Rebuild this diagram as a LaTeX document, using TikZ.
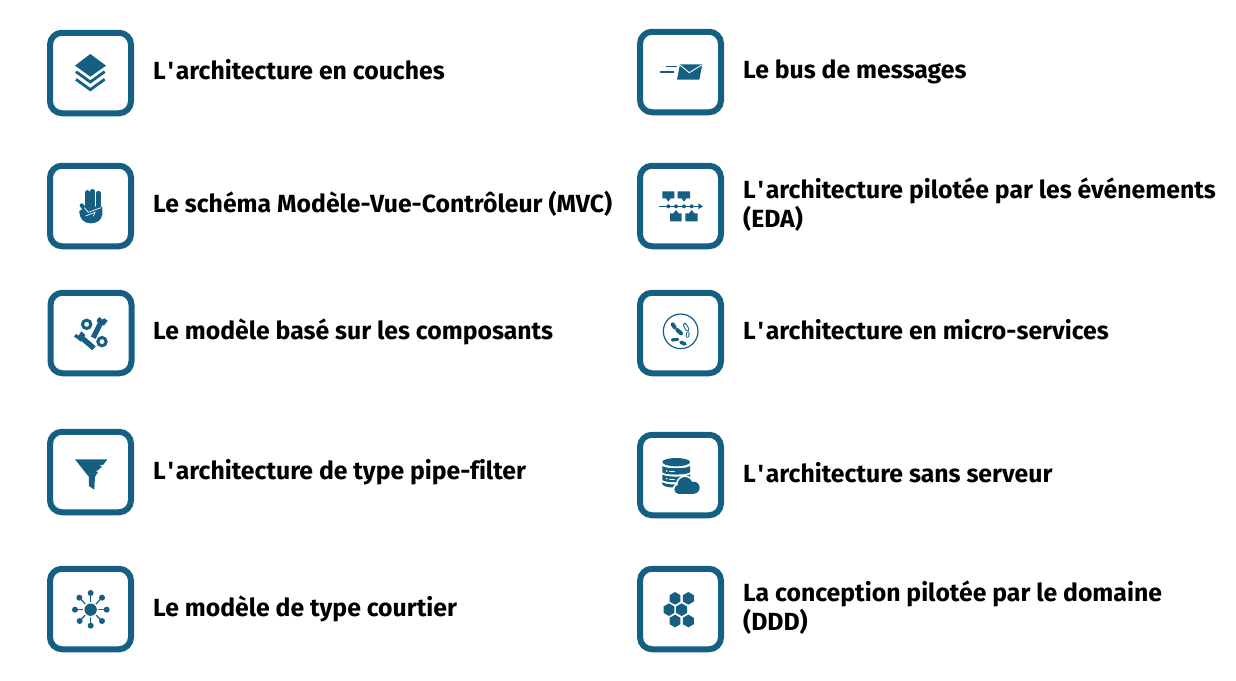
\documentclass[tikz,border=0pt]{standalone}
\usepackage{fontspec}
\usetikzlibrary{calc}
\setmainfont{Fira Sans}[Ligatures={TeXOff,NoCommon}]
\definecolor{teal1}{HTML}{156082}
\newcommand{\lap}{L\kern2pt'\kern2pt}
\tikzset{
  crop/.style 2 args={shift={(#1,#2)},x=0.3333pt,y=-0.3333pt},
  framebox/.style={draw=teal1,line width=6pt,rounded corners=12pt,fill=white,minimum width=81pt,minimum height=80.5pt,inner sep=0pt},
  txt/.style={anchor=base west,inner sep=0pt,align=left,font=\fontsize{24.8pt}{28.5pt}\selectfont\bfseries,text=black},
  icl/.style={draw=teal1,fill=none}
}
\begin{document}
\begin{tikzpicture}[x=1pt,y=-1pt]
\useasboundingbox (0,0) rectangle (1236,680);
% frames
\node[framebox] (b1) at (90.5,73) {};
\node[framebox] (b2) at (90.5,206) {};
\node[framebox] (b3) at (91,333) {};
\node[framebox] (b4) at (90.5,472) {};
\node[framebox] (b5) at (90.5,609) {};
\node[framebox] (c1) at (680.5,72) {};
\node[framebox] (c2) at (680.5,206) {};
\node[framebox] (c3) at (680.5,333) {};
\node[framebox] (c4) at (680.5,475) {};
\node[framebox] (c5) at (680.5,609) {};
% labels
\node[txt] (t1) at (153,79) {\lap architecture en couches};
\node[txt] (t2) at (153,212) {Le schéma Modèle-Vue-Contrôleur (MVC)};
\node[txt] (t3) at (153,339) {Le modèle basé sur les composants};
\node[txt] (t4) at (153,479) {\lap architecture de type pipe-filter};
\node[txt] (t5) at (153,616) {Le modèle de type courtier};
\node[txt] (u1) at (743,78) {Le bus de messages};
\node[txt] (u2) at (743,227) {\lap architecture pilotée par les événements\\(EDA)};
\node[txt] (u3) at (743,339) {\lap architecture en micro-services};
\node[txt] (u4) at (743,482) {\lap architecture sans serveur};
\node[txt] (u5) at (743,630) {La conception pilotée par le domaine\\(DDD)};
% layers icon
\begin{scope}[crop={40}{20}]
\fill[teal1] (151,102)--(198,137)--(151,170)--(105,137)--cycle;
\draw[icl,line width=2.8pt] (108,155)--(151,186)--(194,155);
\draw[icl,line width=2.8pt] (108,178)--(151,209)--(194,178);
\end{scope}
% hand icon
\begin{scope}[crop={40}{155}]
\draw[icl,line width=4.4pt,line cap=round] (142,112)--(142,165);
\draw[icl,line width=4.6pt,line cap=round] (158,109)--(158,165);
\draw[icl,line width=4.4pt,line cap=round] (175,114)--(175,165);
\fill[teal1] (118,168) .. controls (125,160) and (170,150) .. (187,156) -- (187,178) .. controls (185,196) and (170,205) .. (152,205) .. controls (132,205) and (118,192) .. (118,168) -- cycle;
\draw[icl,line width=4pt,line cap=round] (125,151)--(138,168);
\draw[white,line width=0.7pt] (133,158)--(145,172)--(183,158);
\draw[white,line width=0.7pt] (137,183)--(165,172)--(160,184);
\end{scope}
% tools icon
\begin{scope}[crop={40}{285}]
\draw[icl,line width=3pt] (140,118) circle (12.5);
\draw[icl,line width=3pt] (186,170) circle (12.5);
\draw[icl,line width=5.3pt] (183,112)--(160,158);
\fill[teal1] (172,102)--(180,96)--(186,104)--(193,100)--(203,107)--(192,122)--(170,110)--cycle;
\draw[icl,line width=5.3pt] (125,158)--(162,190);
\fill[teal1] (102,155)--(108,147)--(116,152)--(124,139)--(136,150)--(122,170)--(110,160)--cycle;
\end{scope}
% funnel icon
\begin{scope}[crop={40}{422}]
\fill[teal1] (105,112)--(202,112)--(190,128)--(176,130)--(186,133)--(174,145)--(166,147)--(174,150)--(165,165)--(163,203)--(147,192)--(147,165)--cycle;
\end{scope}
% broker icon
\begin{scope}[crop={40}{560}]
\foreach \a/\b in {152/99,152/197,105/149,200/149,118/113,186/113,119/183,186/183}{
  \draw[icl,line width=1.2pt] (152,149)--(\a,\b);
  \fill[teal1] (\a,\b) circle (9);
}
\fill[white] (152,149) circle (23);
\fill[teal1] (152,149) circle (18.5);
\end{scope}
% message icon
\begin{scope}[crop={630}{22}]
\fill[teal1] (150,127)--(217,127)--(208,173)--(141,173)--cycle;
\draw[white,line width=0.9pt] (150,129)--(178,152)--(215,129);
\draw[icl,line width=1pt] (109,134)--(141,134);
\draw[icl,line width=1.3pt] (90,150)--(132,150);
\end{scope}
% event icon
\begin{scope}[crop={630}{155}]
\fill[teal1] (97,109)--(133,109)--(133,130)--(122,130)--(115,140)--(108,130)--(97,130)--cycle;
\fill[teal1] (143,109)--(180,109)--(180,130)--(169,130)--(162,140)--(155,130)--(143,130)--cycle;
\fill[teal1] (120,175)--(130,175)--(138,165)--(146,175)--(155,175)--(155,199)--(120,199)--cycle;
\fill[teal1] (166,175)--(177,175)--(185,165)--(193,175)--(203,175)--(203,199)--(166,199)--cycle;
\draw[icl,line width=1pt] (88,154)--(210,154);
\fill[teal1] (205,145)--(219,154)--(205,163)--cycle;
\foreach \a in {115,138,162,185}{\fill[teal1] (\a,154) circle (6);}
\end{scope}
% microservices icon
\begin{scope}[crop={630}{285}]
\draw[icl,line width=1.2pt] (152,139) circle (52);
\draw[icl,line width=4pt,line cap=round] (128,118)--(134,127);
\draw[icl,line width=4pt,line cap=round] (142,135)--(153,145);
\draw[icl,line width=4pt,line cap=round] (165,120)--(172,133);
\draw[white,line width=2pt,line cap=round] (165,120)--(172,133);
\draw[icl,line width=3.4pt,line cap=round] (174,144)--(172,154);
\draw[white,line width=1.4pt,line cap=round] (174,144)--(172,154);
\draw[icl,line width=3.2pt,line cap=round] (127,165)--(143,163);
\draw[icl,line width=3.6pt,line cap=round] (153,172)--(165,177);
\end{scope}
% serverless icon
\begin{scope}[crop={630}{425}]
\fill[teal1] (97,111) arc[start angle=180,end angle=360,x radius=41.5,y radius=12] arc[start angle=0,end angle=180,x radius=41.5,y radius=13] -- cycle;
\fill[teal1] (97,123) .. controls (105,132) and (170,132) .. (180,123) -- (180,142) .. controls (170,151) and (105,151) .. (97,142) -- cycle;
\fill[teal1] (97,148) .. controls (105,157) and (170,157) .. (180,148) -- (180,165) .. controls (170,174) and (105,174) .. (97,165) -- cycle;
\fill[teal1] (97,171) .. controls (105,180) and (150,180) .. (160,176) -- (150,186) .. controls (125,188) and (105,188) .. (97,179) -- cycle;
\fill[white] (110,138) circle (2.5);
\fill[white] (110,161) circle (2.5);
\draw[white,line width=0.7pt] (117,139)--(135,140) (117,163)--(135,164);
\fill[white] (147,193) circle (19);
\fill[white] (165,178) circle (27);
\fill[white] (191,188) circle (23);
\fill[white] (147,193) rectangle (191,211);
\fill[teal1] (147,193) circle (14);
\fill[teal1] (165,178) circle (22);
\fill[teal1] (191,188) circle (18);
\fill[teal1] (147,190) rectangle (191,206);
\end{scope}
% DDD icon
\begin{scope}[crop={630}{560}]
\foreach \a/\b in {135/115,175/115,117/149,155/149,135/183,175/183}{
  \fill[teal1] ($(\a,\b)+(90:19)$)--($(\a,\b)+(30:19)$)--($(\a,\b)+(-30:19)$)--($(\a,\b)+(-90:19)$)--($(\a,\b)+(-150:19)$)--($(\a,\b)+(150:19)$)--cycle;
}
\end{scope}
\end{tikzpicture}
\end{document}
